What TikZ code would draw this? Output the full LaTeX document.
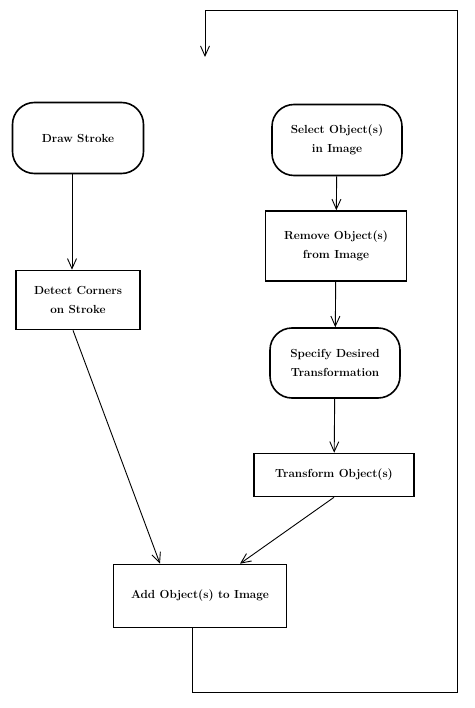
\documentclass[tikz,border=0pt]{standalone}
\usepackage{tikz}
\usetikzlibrary{arrows.meta}

\begin{document}
\begin{tikzpicture}[x=1pt, y=-1pt, >={Straight Barb[length=10pt,width=9pt]}, line width=0.9pt,
	box/.style={draw, line width=1.6pt, align=center, inner sep=0pt,
		font=\bfseries\fontsize{11.7}{19}\selectfont},
	term/.style={box, rounded corners=22pt}]
	\useasboundingbox (0,0) rectangle (474,708);

	\node[term, minimum width=131pt, minimum height=71pt] (draw)      at (78,138)  {Draw Stroke};
	\node[box,  minimum width=124pt, minimum height=59pt] (detect)    at (78,300)  {Detect Corners\\on Stroke};
	\node[term, minimum width=130pt, minimum height=71pt] (select)    at (337,140) {Select Object(s)\\in Image};
	\node[box,  minimum width=141pt, minimum height=70pt] (remove)    at (336,246) {Remove Object(s)\\from Image};
	\node[term, minimum width=130pt, minimum height=70pt] (specify)   at (335,363) {Specify Desired\\Transformation};
	\node[box,  minimum width=160pt, minimum height=43pt] (transform) at (334,475) {Transform Object(s)};
	\node[box,  minimum width=173pt, minimum height=63pt] (add)       at (200,596) {Add Object(s) to Image};

	% loop back to the top
	\coordinate (br) at (457,692);
	\coordinate (tr) at (457,10);
	\coordinate (tl) at (205,10);
	\coordinate (entry) at (205,57);

	\draw[->] ([xshift=-6pt]draw.south) -- ([xshift=-6pt]detect.north);
	\draw[->] (select) -- (remove);
	\draw[->] (remove) -- (specify);
	\draw[->] (specify) -- (transform);
	\draw[->] ([xshift=-5pt]detect.south) -- ([xshift=-40pt]add.north);
	\draw[->] (transform.south) -- ([xshift=40pt]add.north);
	\draw[->] ([xshift=-8pt]add.south) |- (br) -- (tr) -- (tl) -- (entry);
\end{tikzpicture}
\end{document}
